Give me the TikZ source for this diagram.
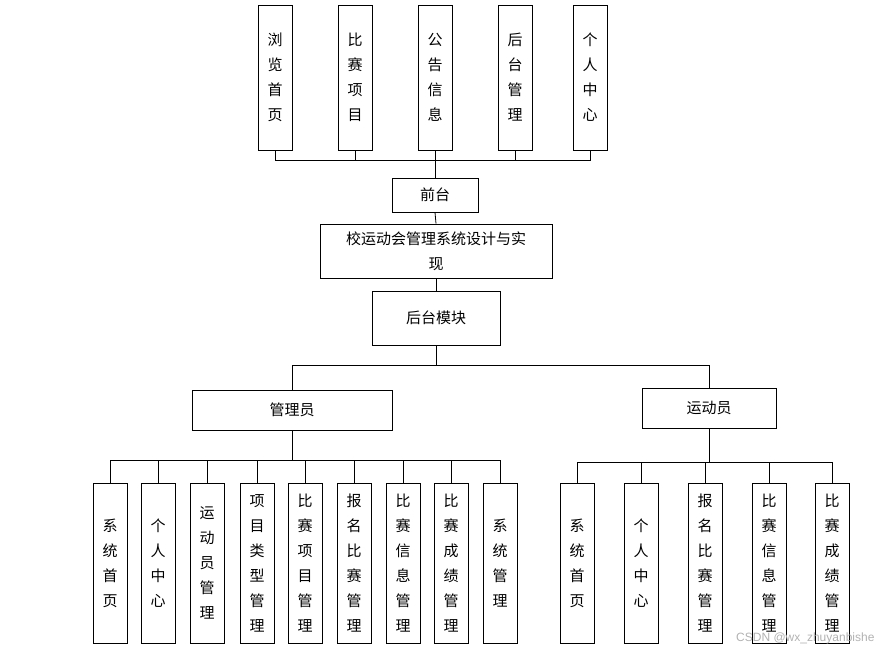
\documentclass[tikz,border=0pt]{standalone}
\usepackage{fontspec}
\newfontfamily\cjk{Noto Sans CJK SC}
\begin{document}
\begin{tikzpicture}[x=1pt,y=-1pt,
  box/.style={draw=black,line width=0.8pt,fill=white,inner sep=0pt,font=\cjk\fontsize{15}{25}\selectfont,align=center},
  vbox/.style={box,minimum width=34pt,minimum height=#1},
  hbox/.style={box,minimum width=#1},
  ln/.style={line width=0.8pt}]
\useasboundingbox (0,0) rectangle (880,653);
% top
\foreach \n/\x/\t in {t1/275/浏\\览\\首\\页, t2/355/比\\赛\\项\\目, t3/435/公\\告\\信\\息, t4/515/后\\台\\管\\理, t5/590/个\\人\\中\\心}
  \node[vbox=145pt] (\n) at (\x,77.5) {\t};
\node[hbox=86pt,minimum height=34pt] (qt) at (435,195) {前台};
\node[hbox=232pt,minimum height=54pt] (main) at (436,251) {校运动会管理系统设计与实\\现};
\node[hbox=128pt,minimum height=54pt] (ht) at (436,318) {后台模块};
\node[hbox=200pt,minimum height=40pt] (gly) at (292,410) {管理员};
\node[hbox=134pt,minimum height=40pt] (ydy) at (709,408) {运动员};
\foreach \n/\x/\t in {a1/110/系\\统\\首\\页, a2/158/个\\人\\中\\心, a3/207/运\\动\\员\\管\\理, a4/257/项\\目\\类\\型\\管\\理, a5/305/比\\赛\\项\\目\\管\\理, a6/354/报\\名\\比\\赛\\管\\理, a7/403/比\\赛\\信\\息\\管\\理, a8/451/比\\赛\\成\\绩\\管\\理, a9/500/系\\统\\管\\理}
  \node[vbox=160pt] (\n) at (\x,563) {\t};
\foreach \n/\x/\t in {b1/577/系\\统\\首\\页, b2/641/个\\人\\中\\心, b3/705/报\\名\\比\\赛\\管\\理, b4/769/比\\赛\\信\\息\\管\\理, b5/832/比\\赛\\成\\绩\\管\\理}
  \node[vbox=160pt] (\n) at (\x,563) {\t};
% connectors top
\coordinate (tb) at (435,160);
\foreach \n in {t1,t2,t3,t4,t5} \draw[ln] (\n.south) |- (tb);
\draw[ln] (t3.south) -- (qt.north);
\draw[ln] (qt.south) -- (main.north);
\draw[ln] (main.south) -- (ht.north);
\coordinate (mb) at (436,365);
\draw[ln] (ht.south) -- (mb);
\draw[ln] (mb) -| (gly.north);
\draw[ln] (mb) -| (ydy.north);
\coordinate (gb) at (292,460);
\draw[ln] (gly.south) -- (gb);
\foreach \n in {a1,a2,a3,a4,a5,a6,a7,a8,a9} \draw[ln] (gb) -| (\n.north);
\coordinate (yb) at (709,462);
\draw[ln] (ydy.south) -- (yb);
\foreach \n in {b1,b2,b3,b4,b5} \draw[ln] (yb) -| (\n.north);
\node[font=\fontspec{Liberation Sans}\fontsize{12}{12}\selectfont,text=black!30,anchor=east] (wm) at (878,638) {CSDN @wx\_zhuyanbishe};
\end{tikzpicture}
\end{document}
